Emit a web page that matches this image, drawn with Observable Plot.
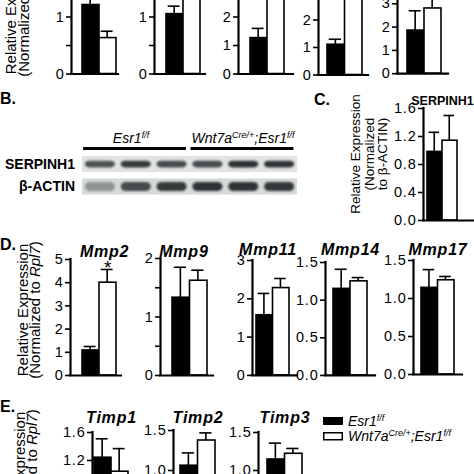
<!DOCTYPE html>
<html><head><meta charset="utf-8">
<script src="https://cdn.jsdelivr.net/npm/d3@7"></script>
<script src="https://cdn.jsdelivr.net/npm/@observablehq/plot@0.6"></script>
<style>
html,body{margin:0;padding:0;background:#fff;}
#root{position:relative;width:474px;height:474px;overflow:hidden;background:#fff;font-family:"Liberation Sans",Arial,sans-serif;}
#root > svg{position:absolute;margin:0;}
</style></head><body><div id="root"></div>
<script>
// ================= DATA =================
const genotypes = ["Esr1 f/f", "Wnt7a Cre/+; Esr1 f/f"];
const chartTitles = ["", "", "", "", "", "SERPINH1", "Mmp2", "Mmp9", "Mmp11", "Mmp14", "Mmp17", "Timp1", "Timp2", "Timp3"];
const meanCtrl = [1.21, 1.05, 1.26, 1.10, 1.85, 0.98, 1.08, 1.33, 1.57, 1.15, 1.14, 1.24, 1.06, 1.145];
const semCtrl  = [0.15, 0.14, 0.34, 0.20, 0.85, 0.28, 0.17, 0.52, 0.57, 0.26, 0.24, 0.27, 0.16, 0.215];
const meanCko  = [0.63, 1.90, 3.20, 3.20, 2.80, 1.14, 4.00, 1.62, 2.28, 1.25, 1.24, 1.04, 1.375, 1.22];
const semCko   = [0.12, 0.20, 0.30, 0.30, 0.50, 0.36, 0.57, 0.18, 0.25, 0.05, 0.05, 0.33, 0.095, 0.07];
const significant = [false, false, false, false, false, false, true, false, false, false, false, false, false, false];
const yTicks = [
  [0, 0.5, 1, 1.5], [0, 0.5, 1, 1.5], [0, 1, 2, 3], [0, 1, 2, 3], [0, 1, 2, 3, 4],
  [0, 0.4, 0.8, 1.2, 1.6],
  [0, 1, 2, 3, 4, 5], [0, 0.5, 1, 1.5, 2], [0, 1, 2, 3], [0, 0.5, 1, 1.5], [0, 0.5, 1, 1.5],
  [0, 0.4, 0.8, 1.2, 1.6], [0, 0.5, 1, 1.5], [0, 0.5, 1, 1.5]
];
const tickDecimals = [0, 0, 0, 0, 0, 1, 0, 0, 0, 1, 1, 1, 1, 1];

// Western blot (band densities, 0..1)
const blotProteins = ["SERPINH1", "β-ACTIN"];
const blotLanes = [0, 1, 2, 3, 4, 5];
const laneGroup = [0, 0, 0, 1, 1, 1];
const serpinh1Density = [0.78, 0.92, 0.82, 0.82, 0.96, 0.94];
const actinDensity = [0.40, 0.82, 0.92, 0.95, 0.95, 0.93];

// ================= LAYOUT (pixels) =================
const L = {
  axisX:   [71, 154, 238, 318, 397, 423, 70, 160, 252, 325, 413, 92, 173, 258],
  zeroY:   [73, 73, 73, 74, 73, 220, 375, 375, 375, 375, 374, 544, 550, 546],
  pxUnit:  [57, 57, 28.5, 27.5, 23.3, 70, 23.2, 58.5, 38.3, 75.3, 76, 70, 80, 76],
  barLeft: [82, 166, 250, 327, 407, 427, 82, 172, 256, 333, 421, 94, 180, 267],
  barW:    [17, 17, 17, 17.5, 17, 15, 17, 17.5, 16.5, 17, 16.5, 17, 17.5, 17.5],
  baseEnd: [118, 205, 293, 368, 448, 490, 121, 213, 297, 375, 462, 140, 222, 308],
  titleY:  [0, 0, 0, 0, 0, 96, 245, 245, 243, 243, 243, 411, 411, 411],
  titleDx: [0, 0, 0, 0, 0, 0, 0.3, -0.35, -0.3, 0, 0, 0, 0, 0]
};
const FONT = '"Liberation Sans", Arial, sans-serif';
const root = document.getElementById("root");

function styleTicks(svg) {
  svg.querySelectorAll('[aria-label="y-axis tick"], [aria-label="y-axis"] .tick line').forEach(g => {
    g.setAttribute("stroke-width", 1.6);
  });
}

chartTitles.forEach((title, c) => {
  const ticks = yTicks[c];
  const dMax = ticks[ticks.length - 1];
  const k = L.pxUnit[c];
  const yTop = L.zeroY[c] - k * dMax;
  const mL = 44, mR = 2, mT = 34, mB = 6;
  const bw = L.barW[c];
  const padL = (L.barLeft[c] - L.axisX[c]) / bw;
  const padR = (L.baseEnd[c] - L.axisX[c]) / bw - padL - 2;
  const x0 = -padL, x1 = 2 + padR;
  const rows = [0, 1].map(i => ({
    i,
    mean: i ? meanCko[c] : meanCtrl[c],
    sem: i ? semCko[c] : semCtrl[c],
    fill: i ? "white" : "black",
    sig: i === 1 && significant[c]
  }));
  const dec = tickDecimals[c];
  const isProtein = c === 5;
  const svg = Plot.plot({
    width: mL + (L.baseEnd[c] - L.axisX[c]) + mR,
    height: mT + k * dMax + mB,
    marginLeft: mL, marginRight: mR, marginTop: mT, marginBottom: mB,
    style: {background: "transparent", overflow: "visible", fontFamily: FONT, fontSize: "14.5px", color: "black", letterSpacing: "0.8px"},
    x: {type: "linear", domain: [x0, x1], axis: null},
    y: {domain: [0, dMax], ticks, tickSize: 5, tickPadding: 2, label: null,
        tickFormat: d => dec ? d.toFixed(dec) : (Number.isInteger(d) ? String(d) : "")},
    marks: [
      Plot.rect(rows, {x1: d => d.i, x2: d => d.i + 1, y1: 0, y2: d => d.mean, fill: d => d.fill, stroke: "black", strokeWidth: 1.6}),
      Plot.ruleX(rows, {x: d => d.i + 0.45, y1: d => d.mean, y2: d => d.mean + d.sem, stroke: "black", strokeWidth: 1.6}),
      Plot.ruleY(rows, {y: d => d.mean + d.sem, x1: d => d.i + 0.1, x2: d => d.i + 0.8, stroke: "black", strokeWidth: 1.6}),
      Plot.text(rows.filter(d => d.sig), {x: d => d.i + 0.5, y: d => d.mean + d.sem, text: () => "*", dy: -1.5, fontSize: 19, fill: "black"}),
      Plot.ruleY([0], {stroke: "black", strokeWidth: 2.2, strokeLinecap: "square"}),
      Plot.ruleX([x0], {y1: 0, y2: dMax, stroke: "black", strokeWidth: 2.2, strokeLinecap: "square"}),
      title ? Plot.text([title], {x: 1 + L.titleDx[c], frameAnchor: "top", dy: L.titleY[c] - yTop, text: d => d,
        fontWeight: "bold", fontStyle: isProtein ? "normal" : "italic", fontSize: isProtein ? 12.5 : 16, fill: "black"}) : null
    ].filter(Boolean)
  });
  styleTicks(svg);
  if (isProtein) {
    svg.querySelectorAll("text").forEach(t => { if (t.textContent === title) t.style.letterSpacing = "0px"; });
  }
  svg.style.left = (L.axisX[c] - mL) + "px";
  svg.style.top = (yTop - mT) + "px";
  root.appendChild(svg);
});

// ================= WESTERN BLOT =================
const bands = [];
blotProteins.forEach((p, r) => blotLanes.forEach(l => bands.push({
  row: r, lane: l, density: (r === 0 ? serpinh1Density : actinDensity)[l], half: r === 0 ? 0.15 : 0.2
})));
const groups = [{first: 0, last: 2}, {first: 3, last: 5}];
const blot = Plot.plot({
  width: 215, height: 63, margin: 0,
  style: {background: "transparent", overflow: "visible"},
  x: {type: "linear", domain: [-0.5, blotLanes.length - 0.5], axis: null},
  y: {type: "linear", domain: [-1.2, 1.6], reverse: true, axis: null},
  marks: [
    Plot.rect(blotProteins.map((p, r) => ({r})), {x1: -0.5, x2: blotLanes.length - 0.5, y1: d => d.r - 0.36, y2: d => d.r + 0.36,
      fill: d => d.r ? "#d6dbda" : "#e0e4e3"}),
    Plot.rect(bands, {x1: d => d.lane - 0.42, x2: d => d.lane + 0.42, y1: d => d.row - d.half, y2: d => d.row + d.half,
      fill: "#272b2d", fillOpacity: d => d.density, rx: 5}),
    Plot.ruleY(groups, {y: -0.71, x1: d => d.first - 0.47, x2: d => d.last + 0.4, stroke: "black", strokeWidth: 3})
  ]
});
blot.querySelectorAll("rect").forEach(r => { if (r.getAttribute("rx")) r.style.filter = "blur(0.9px)"; });
blot.style.left = "82px";
blot.style.top = "137px";
root.appendChild(blot);

// ================= TEXT OVERLAY =================
const sup = (t) => `<tspan font-size="9" dy="-5.5">${t}</tspan>`;
const esr = `Esr1${sup("f/f")}`;
const wnt = `Wnt7a${sup("Cre/+")}<tspan dy="5.5">;Esr1</tspan>${sup("f/f")}`;
function vlabel(cx, cy, lines, size) {
  return lines.map(([bx, t]) => `<text transform="translate(${bx},${cy}) rotate(-90)" text-anchor="middle" font-size="${size}">${t}</text>`).join("");
}
const normRpl7 = `(Normalized to <tspan font-style="italic">Rpl7</tspan>)`;
const overlay = `
<svg width="474" height="474" style="left:0;top:0;overflow:hidden" font-family='${FONT}' fill="black">
  ${vlabel(0, 8, [[16, "Relative Expression"], [29, normRpl7]], 15)}
  <text x="0" y="104" font-size="16" font-weight="bold">B.</text>
  <text x="131" y="143" font-size="14" font-style="italic" text-anchor="middle">${esr}</text>
  <text x="243" y="143" font-size="14" font-style="italic" text-anchor="middle">${wnt}</text>
  <text x="75" y="169" font-size="14" font-weight="bold" text-anchor="end">${blotProteins[0]}</text>
  <text x="75" y="191" font-size="14" font-weight="bold" text-anchor="end">${blotProteins[1]}</text>
  <text x="314" y="105" font-size="16" font-weight="bold">C.</text>
  ${vlabel(0, 154, [[360, "Relative Expression"], [374, "(Normalized"], [387, "to β-ACTIN)"]], 13.5)}
  <text x="0" y="250" font-size="16" font-weight="bold">D.</text>
  ${vlabel(0, 310, [[28, "Relative Expression"], [40, normRpl7]], 15)}
  <text x="0" y="412" font-size="16" font-weight="bold">E.</text>
  ${vlabel(0, 478, [[25, "Relative Expression"], [37, normRpl7]], 15)}
  <rect x="323" y="417" width="20" height="8" fill="black"/>
  <rect x="323.75" y="432.75" width="18.5" height="7" fill="white" stroke="black" stroke-width="1.5"/>
  <text x="348" y="426" font-size="14" font-style="italic">${esr}</text>
  <text x="348" y="441" font-size="14" font-style="italic">${wnt}</text>
</svg>`;
root.insertAdjacentHTML("beforeend", overlay);
</script>
</body></html>
